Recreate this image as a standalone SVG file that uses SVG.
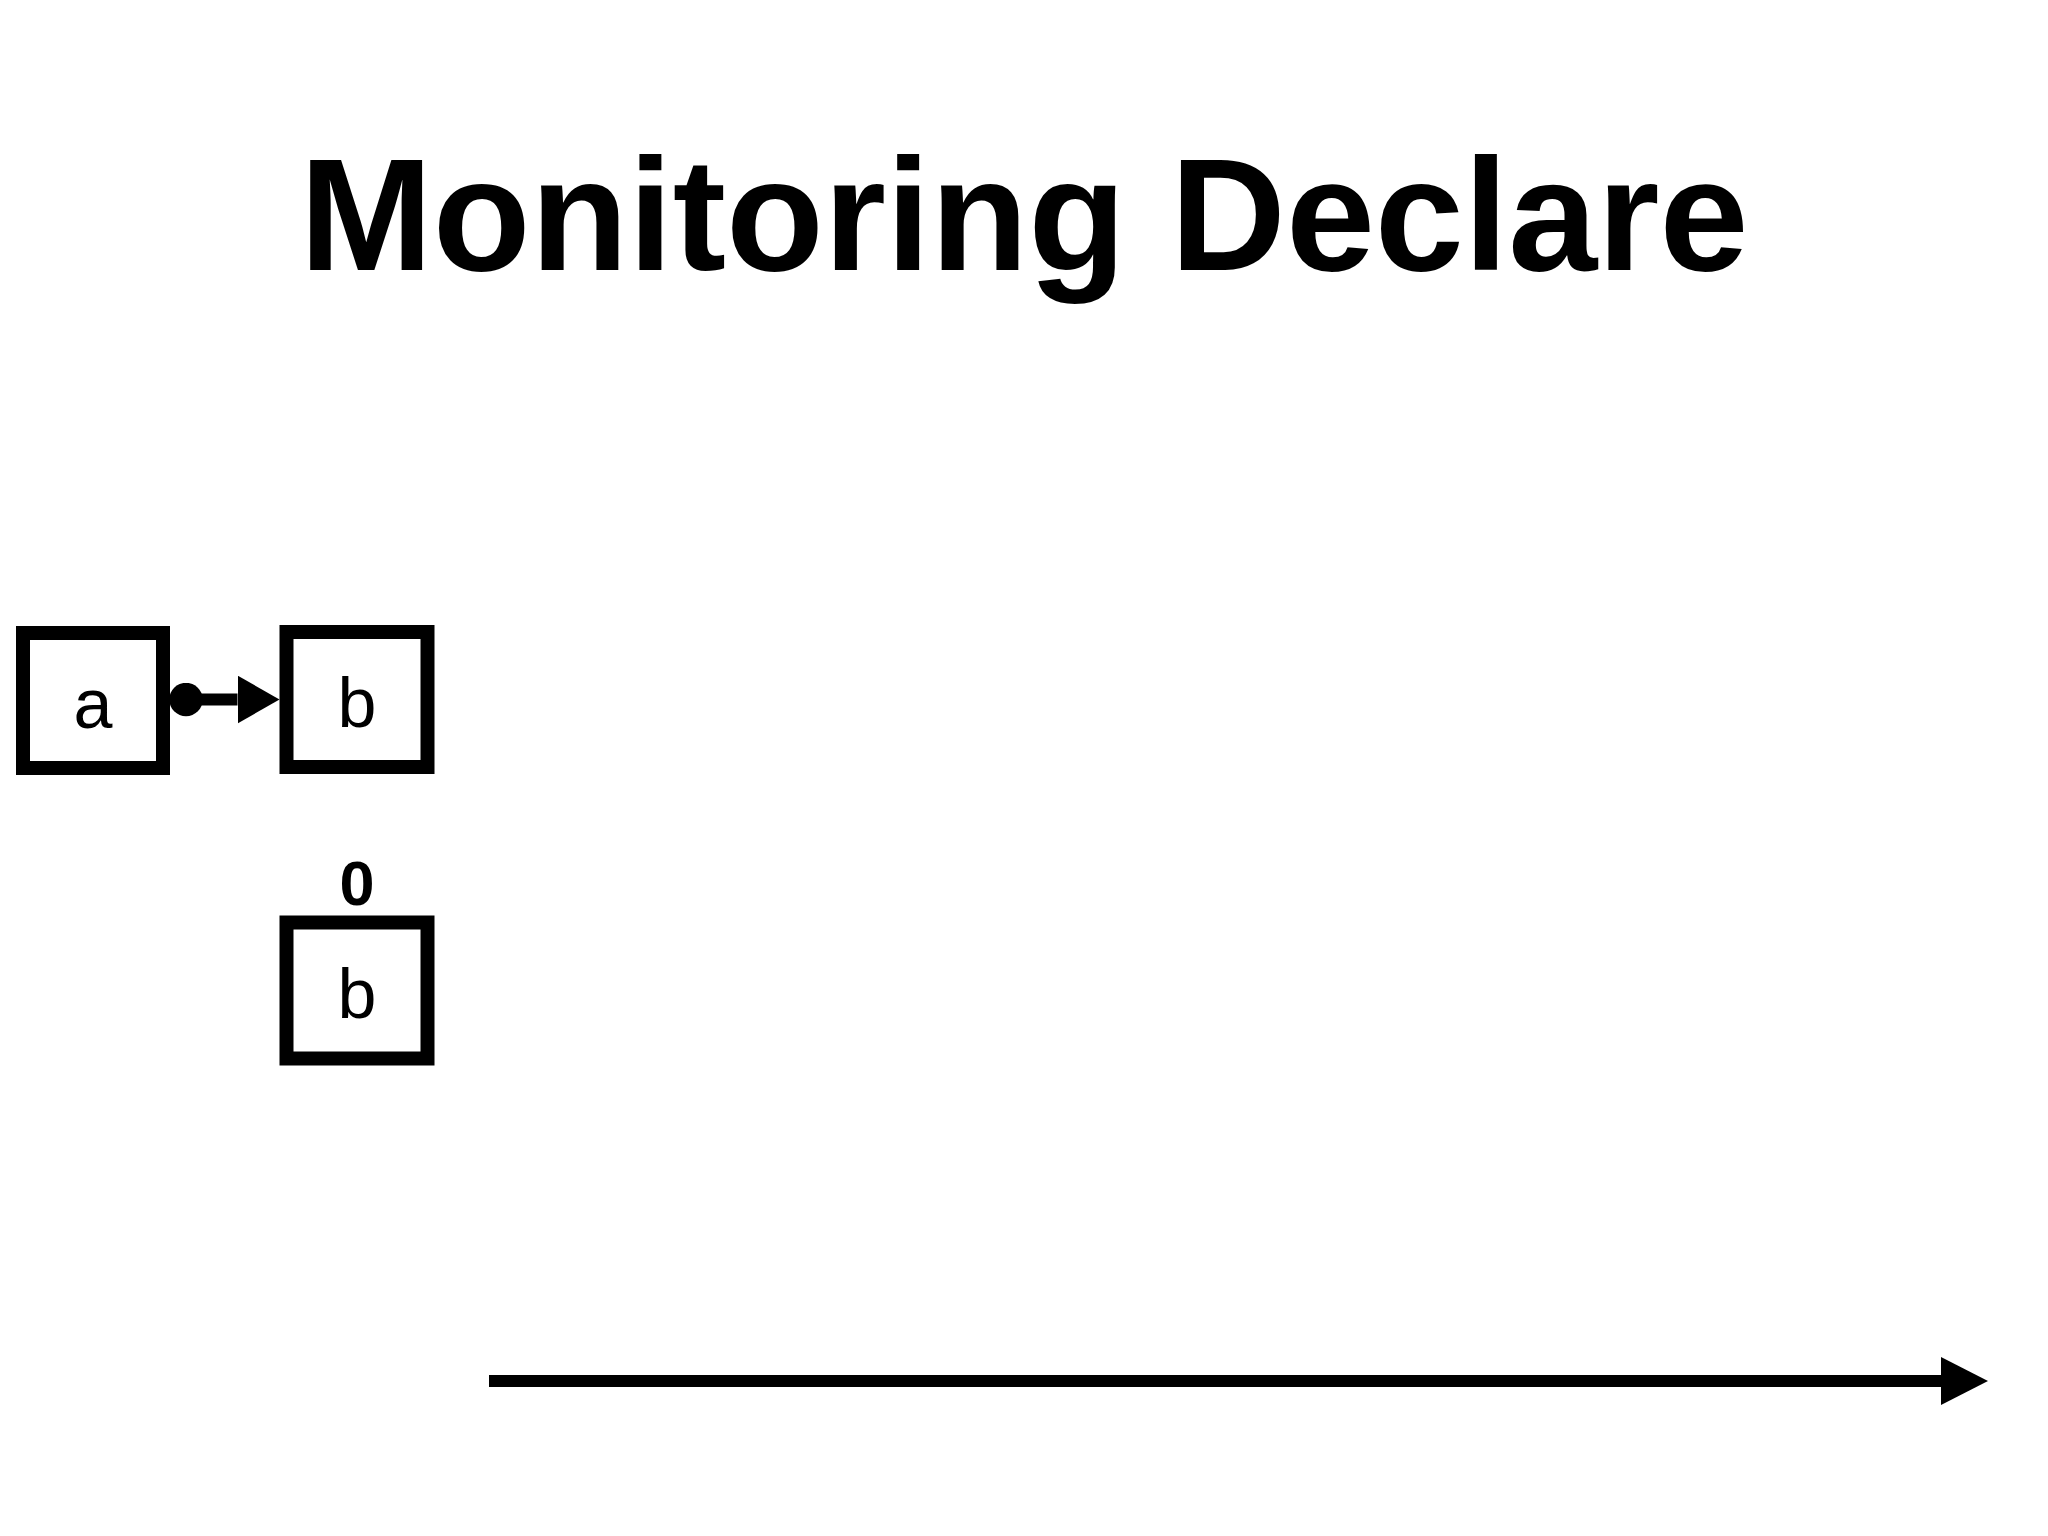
<svg xmlns="http://www.w3.org/2000/svg" width="2048" height="1536" viewBox="0 0 2048 1536">
  <style>
    .box { fill: #ffffff; stroke: #000000; stroke-width: 14; }
    .lbl { font-family: "Liberation Sans", Arial, Helvetica, sans-serif; font-size: 70px; fill: #000000; text-anchor: middle; }
    .title { font-family: "Liberation Sans", Arial, Helvetica, sans-serif; font-size: 160px; font-weight: bold; fill: #000000; text-anchor: middle; }
    .num { font-family: "Liberation Sans", Arial, Helvetica, sans-serif; font-size: 63px; font-weight: bold; fill: #000000; text-anchor: middle; }
    .conn { stroke: #000000; stroke-width: 12; fill: none; }
  </style>
  <defs>
    <marker id="arrowSmall" markerUnits="userSpaceOnUse" viewBox="0 0 42 48" refX="0" refY="24" markerWidth="42" markerHeight="48" orient="auto">
      <path d="M0,0 L42,24 L0,48 Z" fill="#000000"/>
    </marker>
    <marker id="arrowLarge" markerUnits="userSpaceOnUse" viewBox="0 0 47 48" refX="0" refY="24" markerWidth="47" markerHeight="48" orient="auto">
      <path d="M0,0 L47,24 L0,48 Z" fill="#000000"/>
    </marker>
    <marker id="dot" markerUnits="userSpaceOnUse" viewBox="0 0 34 34" refX="17" refY="17" markerWidth="34" markerHeight="34" orient="auto">
      <circle cx="17" cy="17" r="16.7" fill="#000000"/>
    </marker>
  </defs>

  <rect width="2048" height="1536" fill="#ffffff"/>

  <g id="title">
    <text class="title" x="1024" y="270">Monitoring Declare</text>
  </g>

  <g id="node-a">
    <rect class="box" x="23" y="633" width="140" height="135"/>
    <text class="lbl" x="93" y="728">a</text>
  </g>

  <g id="node-b">
    <rect class="box" x="286.5" y="632" width="141" height="135"/>
    <text class="lbl" x="357" y="727">b</text>
  </g>

  <g id="node-b-0">
    <text class="num" x="357" y="905">0</text>
    <rect class="box" x="286.5" y="922.5" width="141" height="136"/>
    <text class="lbl" x="357" y="1018">b</text>
  </g>

  <g id="connectors">
    <line class="conn" x1="186" y1="699.5" x2="237.5" y2="699.5" marker-start="url(#dot)" marker-end="url(#arrowSmall)"/>
    <line class="conn" x1="489" y1="1381" x2="1941" y2="1381" marker-end="url(#arrowLarge)"/>
  </g>
</svg>
